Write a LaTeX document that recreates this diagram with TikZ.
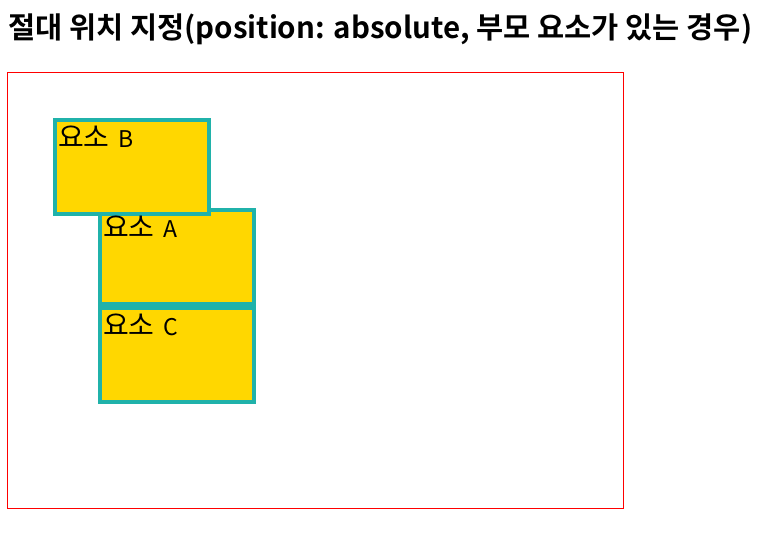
\documentclass[tikz,border=0pt]{standalone}
\usepackage{fontspec}
\newfontfamily\kr{Noto Sans CJK KR}
\newfontfamily\krb{Noto Sans CJK KR Bold}
\definecolor{boxfill}{HTML}{FFD700}
\definecolor{boxline}{HTML}{20B2AA}
\definecolor{frame}{HTML}{FF0000}
\newcommand\lblfont{\kr\fontsize{23}{26}\selectfont\spaceskip=9pt\relax}
\newcommand\hg[1]{{\fontsize{28}{30}\selectfont #1}}
\begin{document}
\begin{tikzpicture}[x=1pt,y=-1pt,
  elem/.style={draw=boxline,fill=boxfill,line width=4pt},
  lbl/.style={anchor=base west,inner sep=0pt,font=\lblfont},
  ttl/.style={anchor=base west,inner sep=0pt}]
\useasboundingbox[fill=white] (0,0) rectangle (761,533);
\node[ttl] (title) at (8,38.5) {\resizebox{744pt}{!}{\krb\fontsize{24}{28}\selectfont 절대 위치 지정(position: absolute, 부모 요소가 있는 경우)}};
\draw[frame,line width=1pt] (7.5,72.5) rectangle (623.5,508);
\draw[elem] (100,210) rectangle (254,304);
\draw[elem] (100,308) rectangle (254,402);
\draw[elem] (55,120) rectangle (209,214);
\node[lbl] (lb) at (58,147) {\hg{요소} B};
\node[lbl] (la) at (103,237) {\hg{요소} A};
\node[lbl] (lc) at (103,335) {\hg{요소} C};
\end{tikzpicture}
\end{document}
